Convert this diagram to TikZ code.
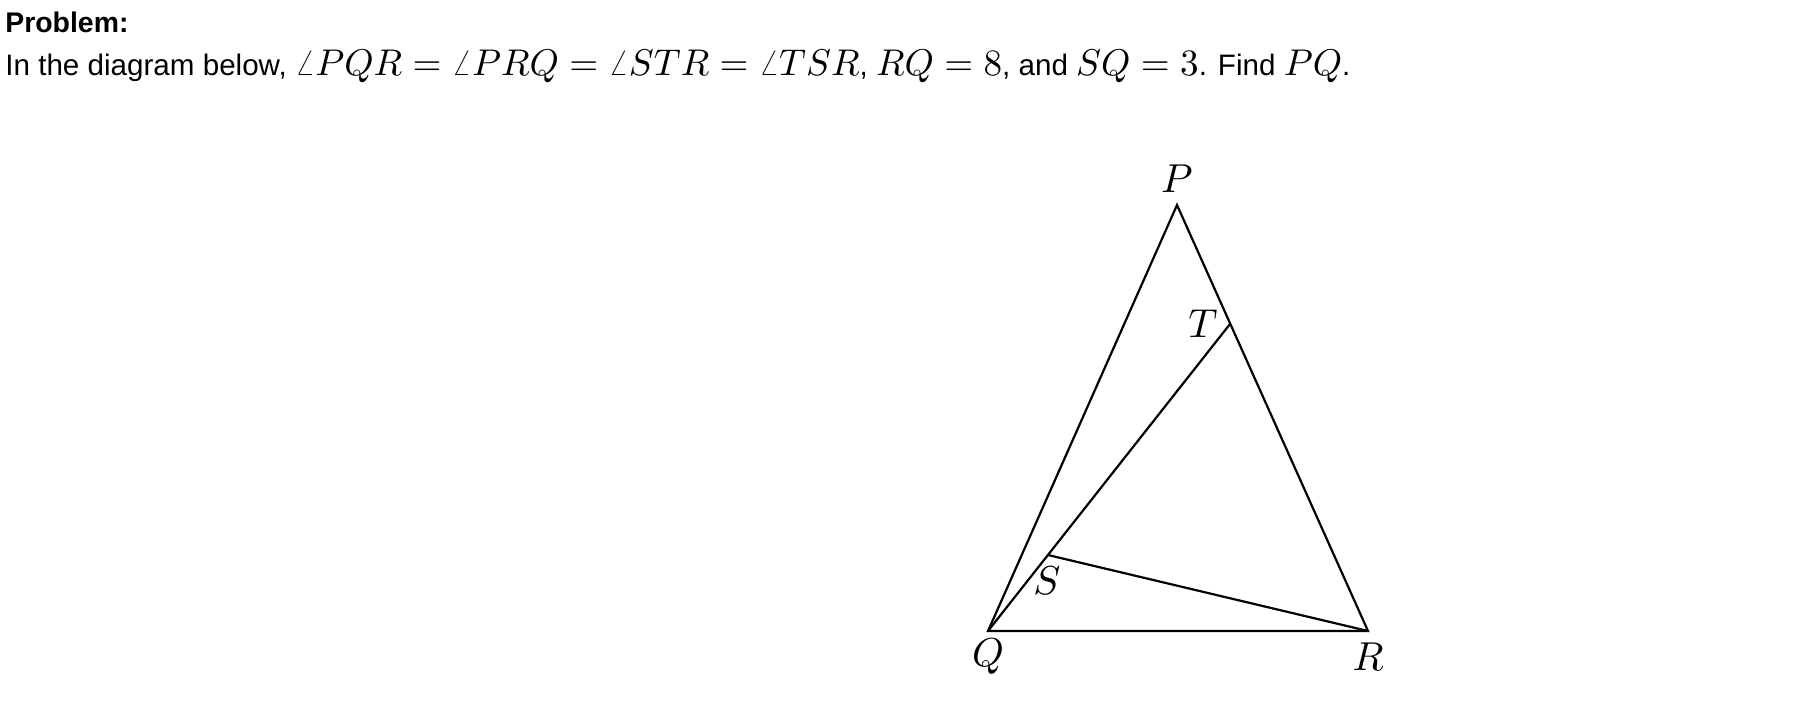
\documentclass[tikz,border=0pt]{standalone}
\usepackage{fontspec}
\setmainfont{Liberation Sans}
\usetikzlibrary{positioning}
% scalable math fonts
\DeclareFontShape{OML}{cmm}{m}{it}{<->cmmi10}{}
\DeclareFontShape{OMS}{cmsy}{m}{n}{<->cmsy10}{}
\DeclareFontShape{OT1}{cmr}{m}{n}{<->cmr10}{}
\newcommand{\mth}[1]{{\fontsize{18.6}{22}\selectfont$#1$}}

\begin{document}
\begin{tikzpicture}[x=0.5pt,y=-0.5pt]
        \useasboundingbox (0,0) rectangle (1814,708);
        % text of the problem
        \node [anchor=base west, inner sep=0pt, font=\fontsize{14.2}{17}\selectfont\bfseries] (title) at (5,32) {Problem:};
        \node [anchor=base west, inner sep=0pt, font=\fontsize{14.8}{18}\selectfont] (text) at (5,75) {In the diagram below, \mth{\angle PQR=\angle PRQ=\angle STR=\angle TSR}, \mth{RQ=8}, and \mth{SQ=3}. Find \mth{PQ}.};
        % the triangle
        \coordinate (P) at (1177,205);
        \coordinate (Q) at (988,631);
        \coordinate (R) at (1368,631);
        \coordinate (T) at (1230,324);
        \coordinate (S) at (1048,555);
        \draw [line width=1.1pt, line join=miter] (Q) -- (P) -- (R) -- cycle;
        \draw [line width=1.1pt] (Q) -- (T);
        \draw [line width=1.1pt] (S) -- (R);
        \node [font=\fontsize{20.2}{24}\selectfont] (labP) at (1177,179) {$P$};
        \node [font=\fontsize{20.2}{24}\selectfont] (labT) at (1203,324) {$T$};
        \node [font=\fontsize{20.2}{24}\selectfont] (labS) at (1047,581) {$S$};
        \node [font=\fontsize{20.2}{24}\selectfont] (labQ) at (988,657) {$Q$};
        \node [font=\fontsize{20.2}{24}\selectfont] (labR) at (1368,657) {$R$};
    \end{tikzpicture}
\end{document}
